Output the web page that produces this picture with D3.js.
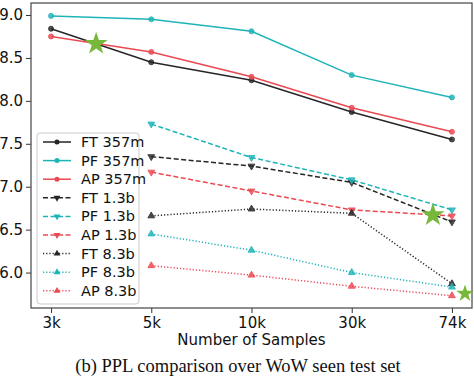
<!DOCTYPE html>
<html>
<head>
<meta charset="utf-8">
<script src="https://cdn.jsdelivr.net/npm/d3@7"></script>
<style>
  body { margin: 0; background: #fff; }
  svg { display: block; }
</style>
</head>
<body>
<div id="chart"></div>
<script>
// categories on the x axis
var samples = ["3k", "5k", "10k", "30k", "74k"];
var yTicks = [6.0, 6.5, 7.0, 7.5, 8.0, 8.5, 9.0];

// PPL values (null = not measured)
var ft357m = [8.84, 8.45, 8.24, 7.87, 7.55];
var pf357m = [8.99, 8.95, 8.81, 8.30, 8.04];
var ap357m = [8.75, 8.57, 8.28, 7.92, 7.64];
var ft13b  = [null, 7.35, 7.24, 7.05, 6.59];
var pf13b  = [null, 7.73, 7.34, 7.08, 6.73];
var ap13b  = [null, 7.17, 6.95, 6.73, 6.66];
var ft83b  = [null, 6.66, 6.74, 6.69, 5.87];
var pf83b  = [null, 6.45, 6.26, 6.00, 5.83];
var ap83b  = [null, 6.08, 5.97, 5.84, 5.73];

// star annotations: [x position in category units, value, size]
var stars = [[0.45, 8.665, 165], [3.81, 6.67, 170], [4.13, 5.755, 95]];

var width = 474, height = 377;
var margin = {top: 3, right: 2, bottom: 69, left: 31};
var w = width - margin.left - margin.right,
    h = height - margin.top - margin.bottom;

var black = "#262626", teal = "#1db4b8", red = "#ea4952";

var series = [
  {name: "FT 357m", vals: ft357m, color: black, dash: null, sym: "circle"},
  {name: "PF 357m", vals: pf357m, color: teal, dash: null, sym: "circle"},
  {name: "AP 357m", vals: ap357m, color: red, dash: null, sym: "circle"},
  {name: "FT 1.3b", vals: ft13b, color: black, dash: "5,2.5", sym: "down"},
  {name: "PF 1.3b", vals: pf13b, color: teal, dash: "5,2.5", sym: "down"},
  {name: "AP 1.3b", vals: ap13b, color: red, dash: "5,2.5", sym: "down"},
  {name: "FT 8.3b", vals: ft83b, color: black, dash: "1.2,2", sym: "up"},
  {name: "PF 8.3b", vals: pf83b, color: teal, dash: "1.2,2", sym: "up"},
  {name: "AP 8.3b", vals: ap83b, color: red, dash: "1.2,2", sym: "up"}
];

var svg = d3.select("#chart")
            .append("svg")
            .attr("width", width)
            .attr("height", height)
            .style("font-family", "'DejaVu Sans', sans-serif");

var g = svg.append("g")
           .attr("transform", "translate(" + margin.left + "," + margin.top + ")");

var x = d3.scaleLinear()
        .domain([-0.2, samples.length - 0.8])
        .range([0, w]);

var y = d3.scaleLinear()
        .domain([5.587, 9.14])
        .range([h, 0]);

g.append("g")
    .attr("transform", "translate(0," + h + ")")
    .call(d3.axisBottom(x).tickValues(d3.range(samples.length))
          .tickFormat(function(i) { return samples[i]; }).tickSize(5).tickPadding(4))
    .call(function(a) { a.select(".domain").remove(); })
    .selectAll("text")
    .style("font-size", "15px")
    .style("font-family", "'DejaVu Sans', sans-serif")
    .attr("fill", "#111");

g.append("g")
    .call(d3.axisLeft(y).tickValues(yTicks).tickFormat(d3.format(".1f")).tickSize(5).tickPadding(3))
    .call(function(a) { a.select(".domain").remove(); })
    .selectAll("text")
    .style("font-size", "15px")
    .style("font-family", "'DejaVu Sans', sans-serif")
    .attr("fill", "#111");

g.selectAll(".tick line").attr("stroke", "#333");

// frame
g.append("rect")
    .attr("width", w).attr("height", h)
    .attr("fill", "none")
    .attr("stroke", "#444")
    .attr("stroke-width", 1.2);

var symOf = function(s) {
  if (s === "circle") return d3.symbol(d3.symbolCircle, 20);
  return d3.symbol(d3.symbolTriangle, 20);
};

var line = d3.line()
    .defined(function(d) { return d !== null; })
    .x(function(d, i) { return x(i); })
    .y(function(d) { return y(d); });

series.forEach(function(s) {
  g.append("path")
    .datum(s.vals)
    .attr("d", line)
    .attr("fill", "none")
    .attr("stroke", s.color)
    .attr("stroke-width", 1.5)
    .attr("stroke-dasharray", s.dash);

  g.selectAll(null)
    .data(s.vals.map(function(v, i) { return [i, v]; }).filter(function(d) { return d[1] !== null; }))
    .join("path")
    .attr("d", symOf(s.sym))
    .attr("transform", function(d) {
      return "translate(" + x(d[0]) + "," + y(d[1]) + ")" + (s.sym === "down" ? " rotate(180)" : "");
    })
    .attr("fill", s.color)
    .attr("fill-opacity", 0.8)
    .attr("stroke", s.color)
    .attr("stroke-width", 0.8);
});

// stars
g.selectAll(null)
  .data(stars)
  .join("path")
  .attr("d", function(d) { return d3.symbol(d3.symbolStar, d[2])(); })
  .attr("transform", function(d) { return "translate(" + x(d[0]) + "," + y(d[1]) + ")"; })
  .attr("fill", "#77b83a");

// legend
var lg = g.append("g").attr("transform", "translate(6,130)");
lg.append("rect")
  .attr("width", 102).attr("height", 171)
  .attr("rx", 3)
  .attr("fill", "#fff").attr("fill-opacity", 0.85)
  .attr("stroke", "#ccc");

series.forEach(function(s, i) {
  var yy = 9 + i * 18.6;
  lg.append("line")
    .attr("x1", 6).attr("x2", 34)
    .attr("y1", yy).attr("y2", yy)
    .attr("stroke", s.color)
    .attr("stroke-width", 1.5)
    .attr("stroke-dasharray", s.dash);
  lg.append("path")
    .attr("d", symOf(s.sym)())
    .attr("transform", "translate(20," + yy + ")" + (s.sym === "down" ? " rotate(180)" : ""))
    .attr("fill", s.color);
  lg.append("text")
    .attr("x", 44).attr("y", yy)
    .attr("dy", "0.35em")
    .style("font-size", "14.5px")
    .attr("fill", "#111")
    .text(s.name);
});

svg.append("text")
  .attr("x", margin.left + w / 2).attr("y", 345)
  .attr("text-anchor", "middle")
  .style("font-size", "15px")
  .attr("fill", "#111")
  .text("Number of Samples");

svg.append("text")
  .attr("x", 238).attr("y", 372)
  .attr("text-anchor", "middle")
  .style("font-family", "'Liberation Serif', 'Times New Roman', serif")
  .style("font-size", "18.5px")
  .attr("fill", "#111")
  .text("(b) PPL comparison over WoW seen test set");
</script>
</body>
</html>
